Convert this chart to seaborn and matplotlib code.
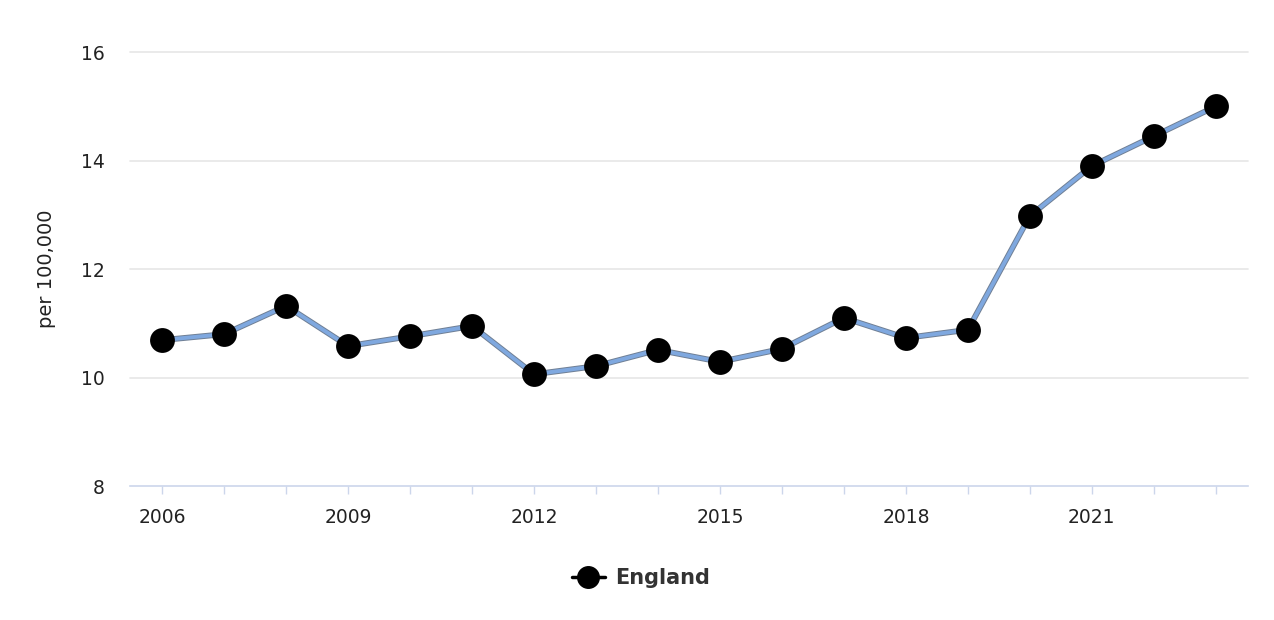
import matplotlib
matplotlib.use("Agg")
import matplotlib.pyplot as plt
import seaborn as sns
import pandas as pd
from matplotlib.lines import Line2D

years = list(range(2006, 2024))
england = [10.69, 10.80, 11.32, 10.58, 10.76, 10.95, 10.06, 10.21, 10.51, 10.29,
           10.53, 11.10, 10.73, 10.88, 12.98, 13.90, 14.45, 15.00]
y_ticks = [8, 10, 12, 14, 16]
x_ticks = [2006, 2009, 2012, 2015, 2018, 2021]
series_name = "England"
y_label = "per 100,000"

df = pd.DataFrame({"year": years, "value": england})

sns.set_theme(style="white")
plt.rcParams['font.family'] = ['DejaVu Sans']

fig = plt.figure(figsize=(12.74, 6.2), dpi=100)
ax = fig.add_axes([0.102, 0.2161, 0.8776, 0.6999])

# dark outline under the blue line
sns.lineplot(data=df, x="year", y="value", ax=ax, color="#6f7f94", linewidth=4.2, zorder=2)
sns.lineplot(data=df, x="year", y="value", ax=ax, color="#7fa8df", linewidth=2.8, zorder=3)
sns.scatterplot(data=df, x="year", y="value", ax=ax, color="black", s=320,
                edgecolor="black", linewidth=0, zorder=4)

ax.set_xlim(2005.48, 2023.52)
ax.set_ylim(8, 16)
ax.set_yticks(y_ticks)
ax.set_xticks(years, minor=True)
ax.set_xticks(x_ticks)
ax.set_xticklabels([str(x) for x in x_ticks])
ax.set_yticklabels([str(y) for y in y_ticks])

for y in y_ticks[1:]:
    ax.axhline(y, color="#e6e6e6", linewidth=1.2, zorder=0, clip_on=False)

for s in ["top", "right", "left"]:
    ax.spines[s].set_visible(False)
ax.spines["bottom"].set_color("#ccd6eb")
ax.spines["bottom"].set_linewidth(1.2)

ax.tick_params(axis="x", which="both", bottom=True, length=6, width=1, color="#ccd6eb",
               labelsize=13.5, labelcolor="#222222", pad=10)
ax.tick_params(axis="y", left=False, labelsize=13.5, labelcolor="#222222", pad=26 - 14)

ax.set_xlabel("")
ax.set_ylabel(y_label, fontsize=14, color="#222222", labelpad=18)

handle = Line2D([0], [0], color="black", linewidth=2.5, marker="o", markersize=15.5,
                markerfacecolor="black", markeredgecolor="black")
fig.legend([handle], [series_name], loc="center", bbox_to_anchor=(0.503, 0.068),
           frameon=False, handlelength=1.6, handletextpad=0.5,
           prop={"weight": "bold", "size": 15}, labelcolor="#333333")

fig.savefig("out.png", dpi=100)
